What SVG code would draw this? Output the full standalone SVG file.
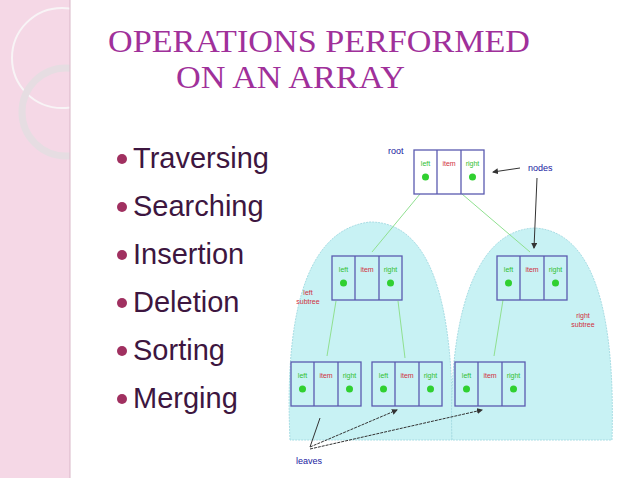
<svg xmlns="http://www.w3.org/2000/svg" width="638" height="478" viewBox="0 0 638 478">
<style>
.t{font-family:"Liberation Serif",serif;font-size:32px;fill:#a0309a}
.b{font-family:"Liberation Sans",Arial,sans-serif;font-size:29px;fill:#3d1640}
.cell{fill:none;stroke:#5a5ab0;stroke-width:1.3}
.lf{font-family:"Liberation Sans",sans-serif;font-size:7px;fill:#30c030;text-anchor:middle}
.it{font-family:"Liberation Sans",sans-serif;font-size:7px;fill:#d03040;text-anchor:middle}
.lb{font-family:"Liberation Sans",sans-serif;font-size:9px;fill:#2020a0}
.lr{font-family:"Liberation Sans",sans-serif;font-size:7px;fill:#d03040;text-anchor:middle}
.g{stroke:#90e090;stroke-width:1;fill:none}
.k{stroke:#333;stroke-width:1;fill:none}
</style>
<defs>
<clipPath id="p"><rect width="70" height="478"/></clipPath>
<marker id="a" markerWidth="6" markerHeight="6" refX="5" refY="3" orient="auto"><path d="M0,0 L6,3 L0,6z" fill="#333"/></marker>
<g id="cellset">
<rect class="cell" x="0" y="0" width="70" height="44"/>
<line class="cell" x1="23" y1="0" x2="23" y2="44"/><line class="cell" x1="47" y1="0" x2="47" y2="44"/>
<text class="lf" x="11.5" y="16">left</text><text class="it" x="35" y="16">item</text><text class="lf" x="58.5" y="16">right</text>
<circle cx="11.5" cy="27" r="3.5" fill="#30d030"/><circle cx="58.5" cy="27" r="3.5" fill="#30d030"/>
</g>
</defs>
<rect width="638" height="478" fill="#fff"/>
<rect width="70" height="478" fill="#f5d8e6"/>
<g clip-path="url(#p)">
<circle cx="62" cy="58" r="50" fill="none" stroke="#f8f4f6" stroke-width="2"/>
<circle cx="66" cy="112" r="44" fill="none" stroke="#e6dde2" stroke-width="7"/>
</g>
<line x1="70" y1="0" x2="70" y2="478" stroke="#d9b7c8"/>
<text class="t" x="108" y="52" textLength="422" lengthAdjust="spacingAndGlyphs">OPERATIONS PERFORMED</text>
<text class="t" x="176" y="88" textLength="229" lengthAdjust="spacingAndGlyphs">ON AN ARRAY</text>
<g id="bullets">
<g fill="#a03060"><circle cx="122" cy="159" r="5"/><circle cx="122" cy="207" r="5"/><circle cx="122" cy="255" r="5"/><circle cx="122" cy="303" r="5"/><circle cx="122" cy="351" r="5"/><circle cx="122" cy="399" r="5"/></g>
<text class="b" x="133" y="168">Traversing</text>
<text class="b" x="133" y="216">Searching</text>
<text class="b" x="133" y="264">Insertion</text>
<text class="b" x="133" y="312">Deletion</text>
<text class="b" x="133" y="360">Sorting</text>
<text class="b" x="133" y="408">Merging</text>
</g>
<g id="subtrees" fill="#c8f2f4" stroke="#a8dde4" stroke-dasharray="2 1">
<path d="M290,440 C285,330 300,230 370,222 C430,222 455,300 452,440 Z"/>
<path d="M452,440 C448,330 470,230 535,228 C600,232 615,330 612,440 Z"/>
</g>
<g id="connectors">
<line class="g" x1="420" y1="194" x2="372" y2="252"/>
<line class="g" x1="462" y1="194" x2="530" y2="252"/>
<line class="g" x1="336" y1="301" x2="327" y2="356"/>
<line class="g" x1="398" y1="301" x2="405" y2="358"/>
<line class="g" x1="503" y1="300" x2="494" y2="356"/>
<line class="k" x1="520" y1="168" x2="493" y2="172" marker-end="url(#a)"/>
<line class="k" x1="537" y1="178" x2="534" y2="248" marker-end="url(#a)"/>
<line class="k" x1="310" y1="447" x2="320" y2="418"/>
<line class="k" x1="310" y1="447" x2="397" y2="410" marker-end="url(#a)" stroke-dasharray="3 1"/>
<line class="k" x1="310" y1="449" x2="482" y2="410" marker-end="url(#a)" stroke-dasharray="3 1"/>
</g>
<g id="root"><use href="#cellset" x="414" y="150"/></g>
<g id="midL"><use href="#cellset" x="332" y="256"/></g>
<g id="midR"><use href="#cellset" x="497" y="256"/></g>
<g id="leaf1"><use href="#cellset" x="291" y="362"/></g>
<g id="leaf2"><use href="#cellset" x="372" y="362"/></g>
<g id="leaf3"><use href="#cellset" x="455" y="362"/></g>
<g id="labels">
<text class="lb" x="388" y="154">root</text>
<text class="lb" x="528" y="171">nodes</text>
<text class="lb" x="296" y="464">leaves</text>
<text class="lr" x="308" y="295">left</text><text class="lr" x="308" y="304">subtree</text>
<text class="lr" x="583" y="318">right</text><text class="lr" x="583" y="327">subtree</text>
</g>
</svg>
